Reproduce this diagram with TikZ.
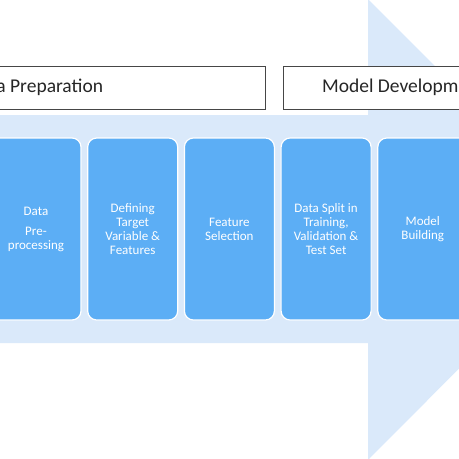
\documentclass[tikz,border=0pt]{standalone}
\usepackage{fontspec}
\setmainfont{Carlito}
\usetikzlibrary{positioning}
\definecolor{arrowbg}{RGB}{218,233,250}
\definecolor{stepblue}{RGB}{92,174,245}
\definecolor{phaseline}{RGB}{70,70,70}

\begin{document}
\begin{tikzpicture}[x=1pt, y=-1pt,
  stepbox/.style={draw=white, line width=1.2pt, fill=stepblue, rounded corners=9pt, minimum width=90pt, minimum height=182pt, align=center, text=white, font=\fontsize{13}{14}\selectfont, inner sep=0pt},
  phase/.style={draw=phaseline, line width=0.7pt, fill=white, minimum height=43pt, font=\fontsize{19.5}{22}\selectfont, text=black!85}]
\useasboundingbox (0,0) rectangle (459,459);
\clip (0,0) rectangle (459,459);
% big process arrow
\fill[arrowbg] (-10,115) -- (368,115) -- (368,-1) -- (598,229) -- (368,460) -- (368,343) -- (-10,343) -- cycle;
% phases
\node[phase, minimum width=458pt] (prep) at (36,87.5) {Data Preparation};
\node[phase, minimum width=241pt] (model) at (403.5,87.5) {Model Development};
% steps
\node[stepbox] (pre) at (36,229) {Data\\[6pt]Pre-\\processing};
\node[stepbox, right=5.5pt of pre] (target) {Defining\\Target\\Variable \&\\Features};
\node[stepbox, right=5.5pt of target] (feat) {Feature\\Selection};
\node[stepbox, right=5.5pt of feat] (split) {Data Split in\\Training,\\Validation \&\\Test Set};
\node[stepbox, right=5.5pt of split] (build) {Model\\Building};
\end{tikzpicture}
\end{document}
